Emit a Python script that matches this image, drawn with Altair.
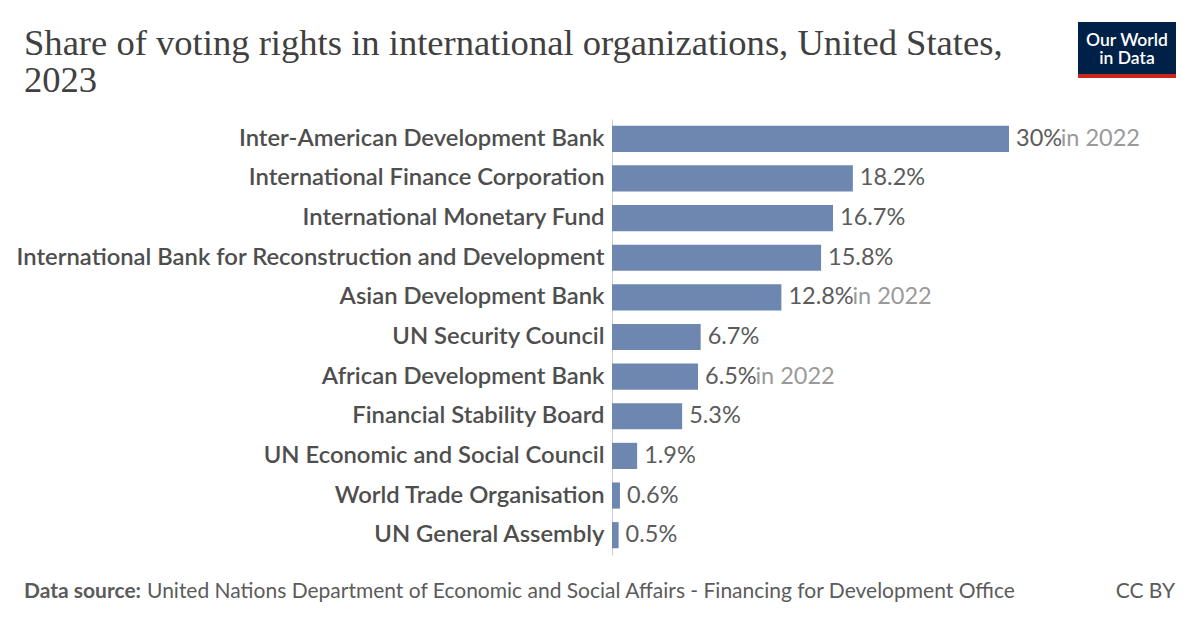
import altair as alt
import pandas as pd

organizations = [
    "Inter-American Development Bank",
    "International Finance Corporation",
    "International Monetary Fund",
    "International Bank for Reconstruction and Development",
    "Asian Development Bank",
    "UN Security Council",
    "African Development Bank",
    "Financial Stability Board",
    "UN Economic and Social Council",
    "World Trade Organisation",
    "UN General Assembly",
]
shares = [30, 18.2, 16.7, 15.8, 12.8, 6.7, 6.5, 5.3, 1.9, 0.6, 0.5]
value_labels = ["30%", "18.2%", "16.7%", "15.8%", "12.8%", "6.7%", "6.5%", "5.3%", "1.9%", "0.6%", "0.5%"]
year_notes = ["in 2022", "", "", "", "in 2022", "", "in 2022", "", "", "", ""]

df = pd.DataFrame({
    "org": organizations,
    "share": shares,
    "label": value_labels,
    "note": year_notes,
})

BAR = "#6d87b0"
TXT = "#5b5b5b"
W, H = 397, 436
LEFT, TOP = 612, 119
FS = 23.5
XMAX = 30
PX_PER_UNIT = W / XMAX
DX = 7

y_enc = alt.Y(
    "org:N", sort=organizations, title=None,
    scale=alt.Scale(paddingInner=0.34, paddingOuter=0.17),
    axis=alt.Axis(
        labelFont="Lato", labelFontSize=23.8, labelFontWeight=600, labelColor="#4e4e4e",
        labelPadding=8, ticks=False, domain=True, domainColor="#cccccc", domainWidth=1,
        labelLimit=700,
    ),
)
x_enc = alt.X("share:Q", title=None, scale=alt.Scale(domain=[0, XMAX], nice=False),
              axis=None)

base = alt.Chart(df)
bars = base.mark_bar(color=BAR, cornerRadius=0).encode(x=x_enc, y=y_enc)
val_txt = base.mark_text(align="left", baseline="middle", dx=DX, font="Lato",
                         fontSize=FS, color=TXT).encode(
    x="share:Q", y=alt.Y("org:N", sort=organizations), text="label:N")

# position of the "in 2022" note: right after the value label (approx. Lato glyph widths)
dot = "(indexof(datum.label, '.') >= 0 ? 1 : 0)"
width_expr = (f"((length(datum.label) - 1 - {dot}) * 0.58 + {dot} * 0.245 + 0.74) * {FS}")
note_txt = base.transform_filter("datum.note != ''").transform_calculate(
    note_x=f"datum.share + ({DX} + {width_expr}) / {PX_PER_UNIT}"
).mark_text(align="left", baseline="middle", font="Lato", fontSize=FS,
            color="#9a9a9a").encode(
    x="note_x:Q", y=alt.Y("org:N", sort=organizations), text="note:N")

def txt(s, x, y, size, color, font="Lato", weight="normal", align="left", baseline="alphabetic"):
    return alt.Chart(pd.DataFrame({"t": [s]})).mark_text(
        align=align, baseline=baseline, font=font, fontSize=size, color=color,
        fontWeight=weight,
    ).encode(x=alt.value(x - LEFT), y=alt.value(y - TOP), text="t:N")

title1 = txt("Share of voting rights in international organizations, United States,",
             24, 55, 36.6, "#404040", font="Liberation Serif")
title2 = txt("2023", 24, 92, 36.6, "#404040", font="Liberation Serif")

src_b = txt("Data source:", 24, 598, 21, TXT, weight="bold")
src_r = txt("United Nations Department of Economic and Social Affairs - Financing for Development Office",
            147, 598, 21, TXT)
cc = txt("CC BY", 1175, 598, 21, TXT, align="right")

logo_bg = alt.Chart(pd.DataFrame({"a": [0]})).mark_rect(color="#002147").encode(
    x=alt.value(1078 - LEFT), x2=alt.value(1176 - LEFT),
    y=alt.value(22 - TOP), y2=alt.value(74 - TOP))
logo_red = alt.Chart(pd.DataFrame({"a": [0]})).mark_rect(color="#ce261e").encode(
    x=alt.value(1078 - LEFT), x2=alt.value(1176 - LEFT),
    y=alt.value(74 - TOP), y2=alt.value(78 - TOP))
logo_txt = alt.Chart(pd.DataFrame({"a": [0]})).mark_text(
    text=["Our World", "in Data"], lineHeight=18, align="center", baseline="alphabetic",
    font="Lato", fontSize=17.5, fontWeight=600, color="white",
).encode(x=alt.value(1127 - LEFT), y=alt.value(46 - TOP))

chart = alt.layer(
    bars, val_txt, note_txt, title1, title2, src_b, src_r, cc,
    logo_bg, logo_red, logo_txt,
).properties(
    width=W, height=H,
    autosize=alt.AutoSizeParams(type="none"),
    padding={"left": LEFT, "top": TOP, "right": 1200 - LEFT - W, "bottom": 627 - TOP - H},
    background="white",
).configure_view(stroke=None)

chart.save("out.html", embed_options={"renderer": "svg", "actions": False})
